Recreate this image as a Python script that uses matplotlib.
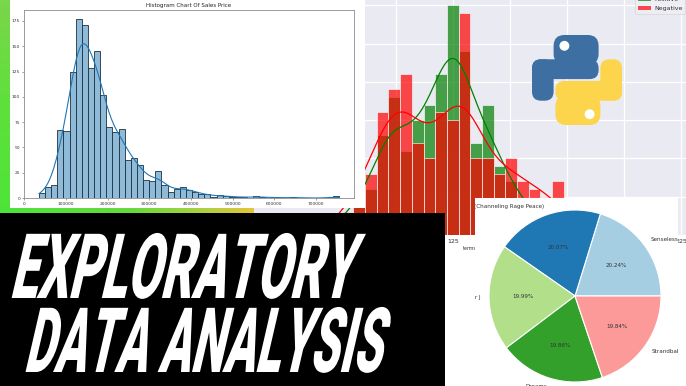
import numpy as np
import matplotlib
matplotlib.use("Agg")
import matplotlib.pyplot as plt
from matplotlib.patches import Rectangle, FancyBboxPatch, Circle, Patch
from matplotlib.patheffects import AbstractPathEffect
from matplotlib.transforms import Affine2D
from matplotlib.colors import LinearSegmentedColormap

W, H = 686, 386

# ---------------- data ----------------
# Histogram of sales price
price_bin_start = 34900
price_bin_width = 14696
price_counts = [5, 11, 13, 67, 66, 125, 177, 171, 129, 145, 102, 70, 65, 68, 38, 40,
                33, 18, 17, 27, 13, 6, 9, 11, 8, 6, 4, 4, 1, 3, 2, 1, 1,
                1, 0, 2, 1, 0, 1, 0, 0, 1, 0, 0, 0, 0, 0, 0, 2]
price_xticks = [0, 100000, 200000, 300000, 400000, 500000, 600000, 700000]
price_yticks = [0, 25, 50, 75, 100, 125, 150, 175]

# Positive / negative histogram
term_bin_start = 65.9
term_bin_width = 5.13
positive_counts = [0, 1, 3, 5, 6, 13, 18, 11, 15, 17, 21, 30, 24, 12, 17, 9, 7, 4, 3, 1, 1]
negative_counts = [1, 1, 3, 7, 8, 16, 19, 21, 12, 10, 16, 15, 29, 10, 10, 8, 10, 7, 6, 5, 7]
term_xticks = [100, 125, 150, 175, 200, 225]
term_xticklabels = ["", "125", "", "", "", "225"]
term_yticks = [0, 5, 10, 15, 20, 25, 30]

# Pie
pie_labels = ["Senseless", "(Channeling Rage Peace)", "Mister J", "Dreams", "Strandbaby"]
pie_shares = [20.24, 20.07, 19.99, 19.86, 19.84]
pie_colors = ["#a6cee3", "#1f78b4", "#b2df8a", "#33a02c", "#fb9a99"]

title_lines = ["EXPLORATORY", "DATA ANALYSIS"]


def weighted_kde(centers, weights, grid, bin_width):
    c = np.asarray(centers, float)
    w = np.asarray(weights, float)
    n = w.sum()
    mean = (w * c).sum() / n
    std = np.sqrt((w * (c - mean) ** 2).sum() / n)
    bw = std * n ** (-0.2)
    d = (w[None, :] * np.exp(-0.5 * ((grid[:, None] - c[None, :]) / bw) ** 2)).sum(1)
    d = d / (bw * np.sqrt(2 * np.pi))
    return d * bin_width


fig = plt.figure(figsize=(W / 100, H / 100), dpi=100)
fig.patch.set_facecolor("white")


def px_axes(x0, y0, x1, y1, z):
    return fig.add_axes([x0 / W, 1 - y1 / H, (x1 - x0) / W, (y1 - y0) / H], zorder=z)


# ---------------- background decorations ----------------
ax_bg = px_axes(0, 0, W, H, 0)
ax_bg.set_xlim(0, W)
ax_bg.set_ylim(H, 0)
ax_bg.axis("off")
vcmap = LinearSegmentedColormap.from_list("v", ["#7ad64a", "#5ee03c", "#4fe43a"])
ax_bg.imshow(np.linspace(0, 1, 50)[:, None], cmap=vcmap, aspect="auto",
             extent=(0, 10, 213, 0), zorder=0)
hcmap = LinearSegmentedColormap.from_list(
    "h", [(0, "#4de43a"), (0.5, "#66da3c"), (0.8, "#b5cf42"), (1.0, "#eec33a")])
ax_bg.imshow(np.linspace(0, 1, 100)[None, :], cmap=hcmap, aspect="auto",
             extent=(0, 265, 213, 207), zorder=0)

# ---------------- middle histogram ----------------
ax_m = px_axes(254, 0, 686, 235, 1)
ax_m.set_facecolor("#eaeaf2")
edges_t = term_bin_start + term_bin_width * np.arange(len(positive_counts) + 1)
ax_m.bar(edges_t[:-1], positive_counts, width=term_bin_width, align="edge",
         color="green", alpha=0.7, edgecolor="white", linewidth=0.6)
ax_m.bar(edges_t[:-1], negative_counts, width=term_bin_width, align="edge",
         color="red", alpha=0.7, edgecolor="white", linewidth=0.6)
centers_t = (edges_t[:-1] + edges_t[1:]) / 2
grid_t = np.linspace(edges_t[0], edges_t[-1], 300)
ax_m.plot(grid_t, weighted_kde(centers_t, positive_counts, grid_t, term_bin_width),
          color="green", lw=0.9)
ax_m.plot(grid_t, weighted_kde(centers_t, negative_counts, grid_t, term_bin_width),
          color="red", lw=0.9)
ax_m.set_xlim(37.7, 227.2)
ax_m.set_ylim(0, 30.68)
ax_m.set_xticks(term_xticks)
ax_m.set_xticklabels(term_xticklabels)
ax_m.set_yticks(term_yticks)
ax_m.grid(True, color="white", lw=0.9)
ax_m.set_axisbelow(True)
for s in ax_m.spines.values():
    s.set_visible(False)
ax_m.tick_params(length=0, labelsize=4.5, labelcolor="#333333", pad=3, labelleft=False)
ax_m.set_xlabel("terms", fontsize=3.4, color="#333333", labelpad=1.5)
leg = ax_m.legend(handles=[Patch(facecolor="#46a049", label="Positive"),
                           Patch(facecolor="#f94649", label="Negative")],
                  loc="lower left", bbox_to_anchor=(632 / W, 1 - 17 / H),
                  bbox_transform=fig.transFigure, fontsize=4.5,
                  handlelength=2.1, handleheight=0.7, handletextpad=0.6,
                  labelspacing=0.7, borderpad=0.4, frameon=True, fancybox=True)
leg.get_frame().set_facecolor("#eeeef4")
leg.get_frame().set_edgecolor("#cfcfd6")
leg.get_frame().set_linewidth(0.5)
for t in leg.get_texts():
    t.set_color("#333333")

# ---------------- left panel: sales price histogram ----------------
ax_lp = px_axes(10, 0, 365, 208, 2)
ax_lp.set_facecolor("white")
ax_lp.set_xticks([])
ax_lp.set_yticks([])
for s in ax_lp.spines.values():
    s.set_visible(False)

ax_h = px_axes(24, 10, 354, 198, 3)
edges_p = price_bin_start + price_bin_width * np.arange(len(price_counts) + 1)
ax_h.bar(edges_p[:-1], price_counts, width=price_bin_width, align="edge",
         color="#8fbbd9", edgecolor="#1c3142", linewidth=0.6)
centers_p = (edges_p[:-1] + edges_p[1:]) / 2
grid_p = np.linspace(edges_p[0], edges_p[-1], 400)
ax_h.plot(grid_p, weighted_kde(centers_p, price_counts, grid_p, price_bin_width),
          color="#1f77b4", lw=0.8)
rng = edges_p[-1] - edges_p[0]
ax_h.set_xlim(edges_p[0] - 0.05 * rng, edges_p[-1] + 0.05 * rng)
ax_h.set_ylim(0, max(price_counts) * 1.05)
ax_h.set_xticks(price_xticks)
ax_h.set_yticks(price_yticks)
ax_h.tick_params(length=1.5, width=0.4, labelsize=3.2, pad=1.2,
                 color="#555555", labelcolor="#333333")
for s in ax_h.spines.values():
    s.set_color("#8c8c8c")
    s.set_linewidth(0.6)
ax_h.set_title("Histogram Chart Of Sales Price", fontsize=4, pad=2.2, color="#222222")

# ---------------- pie panel ----------------
ax_p = px_axes(475, 198, 678, 386, 2)
wedges, texts, autotexts = ax_p.pie(
    pie_shares, labels=pie_labels, colors=pie_colors, startangle=0,
    autopct="%.2f%%", radius=86, center=(0, 0), labeldistance=1.1, pctdistance=0.6,
    wedgeprops=dict(edgecolor="white", linewidth=0.8),
    textprops=dict(fontsize=4.1, color="#333333"))
for t in texts:
    t.set_clip_on(True)
ax_p.set_xlim(-100, 103)
ax_p.set_ylim(-90, 98)
ax_p.set_aspect("auto")
ax_p.set_frame_on(True)
ax_p.set_facecolor("white")
for s in ax_p.spines.values():
    s.set_visible(False)

# ---------------- overlay: black box, title, python logo ----------------
ax_ov = px_axes(0, 0, W, H, 5)
ax_ov.set_xlim(0, W)
ax_ov.set_ylim(H, 0)
ax_ov.axis("off")
ax_ov.add_patch(Rectangle((0, 213), 445, H - 213, facecolor="black", edgecolor="none"))


class Stretch(AbstractPathEffect):
    """Stretch glyphs vertically about the baseline and slant them (condensed italic look)."""

    def __init__(self, x0, y0, sy, shear):
        super().__init__()
        self.t = (Affine2D().translate(-x0, -y0).scale(1.0, sy)
                  .skew_deg(shear, 0).translate(x0, y0))

    def draw_path(self, renderer, gc, tpath, affine, rgbFace=None):
        renderer.draw_path(gc, tpath, affine + self.t, rgbFace)


renderer = fig.canvas.get_renderer()
base_size = 65
line_specs = [(title_lines[0], 9, 298, 342), (title_lines[1], 23, 372, 358)]
for txt, x, y, target in line_specs:
    t = ax_ov.text(x, y, txt, color="white", fontsize=base_size, ha="left", va="baseline",
                   family=["Roboto", "Lato", "DejaVu Sans"], weight="black")
    wdt = t.get_window_extent(renderer).width
    k = target / wdt
    t.set_fontsize(base_size * k)
    dx, dy = ax_ov.transData.transform((x, y))
    t.set_path_effects([Stretch(dx, dy, 1.0 / k, 13)])

# python logo
lx, ly, S = 532, 35, 90
blue, yellow = "#3d6fa3", "#fcd54c"


def rbox(u0, v0, u1, v1, color, r=0.12):
    ax_ov.add_patch(FancyBboxPatch((lx + u0 * S, ly + v0 * S), (u1 - u0) * S, (v1 - v0) * S,
                                   boxstyle="round,pad=0,rounding_size=%f" % (r * S),
                                   facecolor=color, edgecolor="none"))


rbox(0.24, 0.0, 0.74, 0.33, blue)
rbox(0.0, 0.27, 0.74, 0.49, blue, 0.1)
rbox(0.0, 0.27, 0.24, 0.73, blue, 0.1)
rbox(0.26, 0.67, 0.76, 1.0, yellow)
rbox(0.26, 0.51, 1.0, 0.73, yellow, 0.1)
rbox(0.76, 0.27, 1.0, 0.73, yellow, 0.1)
ax_ov.add_patch(Circle((lx + 0.36 * S, ly + 0.12 * S), 0.055 * S, facecolor="white", edgecolor="none"))
ax_ov.add_patch(Circle((lx + 0.64 * S, ly + 0.88 * S), 0.055 * S, facecolor="white", edgecolor="none"))

fig.savefig("out.png", dpi=100)
